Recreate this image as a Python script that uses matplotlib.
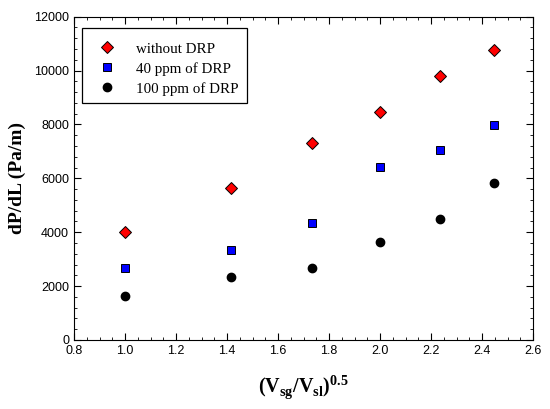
import numpy as np
import matplotlib
matplotlib.use('Agg')
import matplotlib.pyplot as plt
from matplotlib.ticker import MultipleLocator, FormatStrFormatter
from matplotlib.patches import Rectangle

plt.rcParams['mathtext.fontset'] = 'custom'
plt.rcParams['mathtext.rm'] = 'Liberation Serif'
plt.rcParams['mathtext.bf'] = 'Liberation Serif:bold'

# ---- data ----
x_ratio = [1.0, 1.414, 1.732, 2.0, 2.236, 2.449]
dp_no_drp = [4010, 5660, 7330, 8460, 9790, 10780]
dp_40ppm = [2660, 3330, 4330, 6420, 7070, 7990]
dp_100ppm = [1620, 2350, 2680, 3620, 4480, 5830]

fig = plt.figure(figsize=(5.5, 4.09), dpi=100)
ax = fig.add_axes([74 / 550, 1 - 340 / 409, (533 - 74) / 550, (340 - 16.7) / 409])

ax.plot(x_ratio, dp_no_drp, linestyle='none', marker='D', markersize=6.5,
        color='#ff0000', markeredgecolor='black', markeredgewidth=0.7, label='without DRP')
ax.plot(x_ratio, dp_40ppm, linestyle='none', marker='s', markersize=5.8,
        color='#0000ff', markeredgecolor='black', markeredgewidth=0.7, label='40 ppm of DRP')
ax.plot(x_ratio, dp_100ppm, linestyle='none', marker='o', markersize=6,
        color='black', label='100 ppm of DRP')

ax.set_xlim(0.8, 2.6)
ax.set_ylim(0, 12000)
ax.xaxis.set_major_locator(MultipleLocator(0.2))
ax.xaxis.set_minor_locator(MultipleLocator(0.05))
ax.yaxis.set_major_locator(MultipleLocator(2000))
ax.yaxis.set_minor_locator(MultipleLocator(400))
ax.xaxis.set_major_formatter(FormatStrFormatter('%.1f'))
ax.tick_params(which='both', direction='in', top=True, right=True, labelsize=9)
ax.tick_params(which='major', length=5)
ax.tick_params(which='minor', length=2.5)
for lbl in ax.get_xticklabels() + ax.get_yticklabels():
    lbl.set_fontfamily('Liberation Sans')

ax.set_xlabel(r'(V$_{\mathbf{sg}}$/V$_{\mathbf{sl}}$)$^{\mathbf{0.5}}$',
              fontfamily='Liberation Serif', fontweight='bold', fontsize=14.5, labelpad=12)
ax.set_ylabel('dP/dL (Pa/m)', fontfamily='Liberation Serif', fontweight='bold',
              fontsize=14, labelpad=6)

# legend frame is larger than its content in the original, so draw it separately
ax.add_patch(Rectangle((8 / 459, (340 - 103) / 323.3), (247 - 82) / 459, 75 / 323.3,
                       transform=ax.transAxes, fill=False, edgecolor='black',
                       linewidth=0.9, zorder=5))
ax.legend(loc='upper left', bbox_to_anchor=(18 / 459, (340 - 34.5) / 323.3), frameon=False,
          prop={'family': 'Liberation Serif', 'size': 10.8},
          borderpad=0, handlelength=1.0, handletextpad=1.4, labelspacing=0.42)

plt.savefig('out.png', dpi=100)
